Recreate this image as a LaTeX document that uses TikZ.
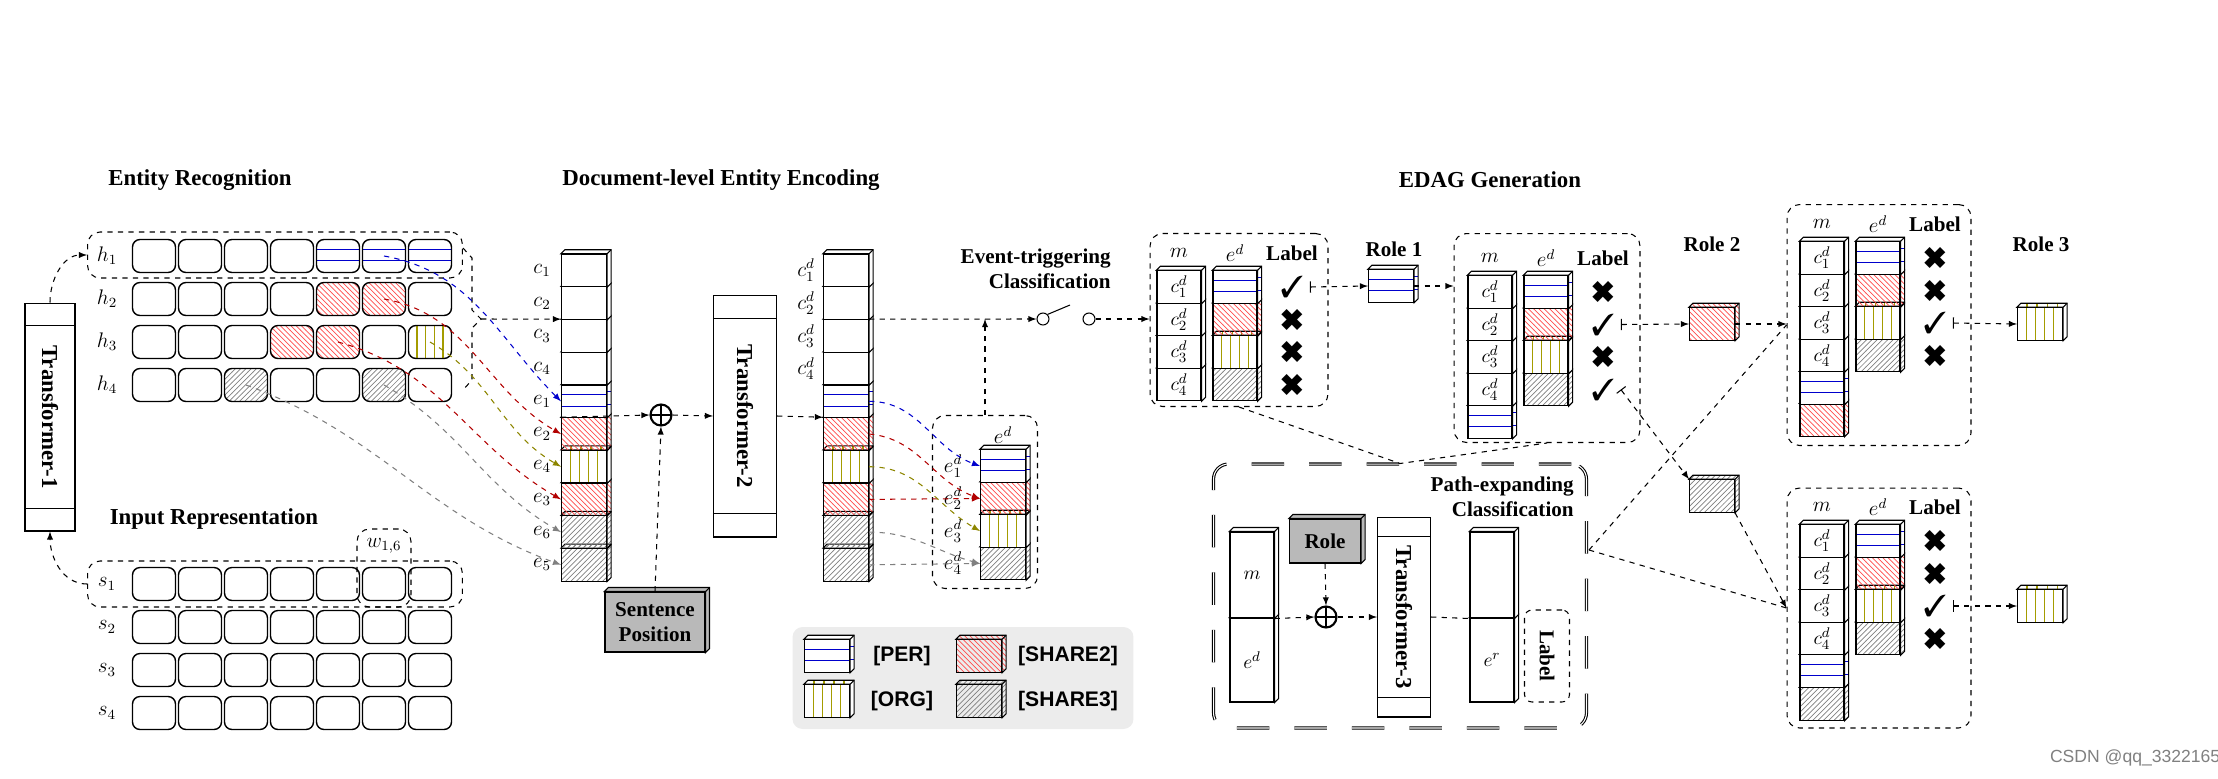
\documentclass[tikz,border=0pt]{standalone}
\usepackage{fontspec}
\setmainfont{Liberation Serif}
\newfontfamily\legfont{Liberation Sans}
\usepackage{amsmath}
\usepackage{pifont}
\usepackage{tikz}
\usetikzlibrary{positioning}
\usetikzlibrary{calc}
\usetikzlibrary{patterns}
\usetikzlibrary{arrows}

\tikzset{
  cube/.style={draw,fill=white,inner sep=0,minimum width=0.9cm,minimum height=0.65cm,font=\fontsize{11}{12}\selectfont},
  tok/.style={draw,thick,rounded corners=0.15cm,inner sep=0,minimum width=0.86cm,minimum height=0.66cm},
  per/.style={path picture={\foreach \f in {0.3,0.65}{\draw[blue!80!black,semithick] ($(path picture bounding box.north west)!\f!(path picture bounding box.south west)$) -- ($(path picture bounding box.north east)!\f!(path picture bounding box.south east)$);}}},
  org/.style={path picture={\foreach \f in {0.2,0.4,0.6,0.8}{\draw[olive!80!yellow] ($(path picture bounding box.north west)!\f!(path picture bounding box.north east)$) -- ($(path picture bounding box.south west)!\f!(path picture bounding box.south east)$);}}},
  shtwo/.style={pattern=north west lines,pattern color=red!70},
  shthree/.style={pattern=north east lines,pattern color=gray},
  hp 1-5/.style={per}, hp 1-6/.style={per}, hp 1-7/.style={per},
  hp 2-5/.style={shtwo}, hp 2-6/.style={shtwo},
  hp 3-4/.style={shtwo}, hp 3-5/.style={shtwo}, hp 3-7/.style={org},
  hp 4-3/.style={shthree}, hp 4-6/.style={shthree},
  ttl/.style={font=\fontsize{13}{15}\selectfont\bfseries},
  lab/.style={font=\fontsize{12}{14}\selectfont},
  head/.style={font=\fontsize{12}{14}\selectfont\bfseries},
  tick/.style={font=\LARGE},
  grp/.style={draw,dashed,rounded corners=0.25cm,inner sep=0},
  conn/.style={dashed,-latex},
  bconn/.style={dashed,|-latex},
  oplus/.style={circle,draw,very thick,minimum size=0.42cm,inner sep=0,path picture={\draw[very thick] (path picture bounding box.north) -- (path picture bounding box.south) (path picture bounding box.west) -- (path picture bounding box.east);}}
}

\newcommand\cubenode[4]{%
  \node[cube,#4] (#1) at (#2) {#3};
  \draw[fill=white,#4] (#1.north west) -- ++(0.08cm,0.08cm) -- ([shift={(0.08cm,0.08cm)}]#1.north east) -- ([shift={(0.08cm,0.08cm)}]#1.south east) -- (#1.south east) -- (#1.north east) -- cycle;
  \draw (#1.north east) -- ++(0.08cm,0.08cm);}

% candidate table: prefix, x of m column, y of first row
\newcommand\cand[3]{%
  \foreach \k/\st in {4/shthree,3/org,2/shtwo,1/per}{
    \pgfmathsetmacro\yy{#3+32.5*(\k-1)}
    \cubenode{#1m\k}{#2,\yy}{$c^d_{\k}$}{minimum width=0.88cm}
    \cubenode{#1e\k}{#2+56,\yy}{}{\st,minimum width=0.88cm}}
  \node[lab] (#1hm) at (#2,#3-34) {$m$};
  \node[lab] (#1he) at (#2+56,#3-34) {$e^d$};
  \node[head] (#1hl) at (#2+113,#3-34) {Label};}

\begin{document}
\begin{tikzpicture}[x=0.02cm,y=-0.02cm,semithick]
\useasboundingbox (0,0) rectangle (2218,778);

% titles
\node[ttl] (t1) at (200,180) {Entity Recognition};
\node[ttl] (t2) at (721,180) {Document-level Entity Encoding};
\node[ttl] (t3) at (1490,180) {EDAG Generation};
\node[ttl] (t4) at (214,519) {Input Representation};

% transformer-1
\node[draw,minimum width=1cm,minimum height=4.56cm] (T1) at (50,417) {\rotatebox{-90}{\fontsize{13}{15}\selectfont\bfseries Transformer-1}};
\draw ([yshift=-0.46cm]T1.north west) -- ([yshift=-0.46cm]T1.north east)
      ([yshift=0.46cm]T1.south west) -- ([yshift=0.46cm]T1.south east);

% token rows
\node[grp,minimum width=7.5cm,minimum height=0.92cm] (hbox) at (275,255) {};
\node[grp,minimum width=7.5cm,minimum height=0.92cm] (sbox) at (275,584) {};
\node[grp,minimum width=1.08cm,minimum height=1.56cm] (wbox) at (384,568) {};
\node[lab,fill=white,inner sep=1pt] (wlab) at (384,546) {$w_{1,6}$};
\foreach \r in {1,...,4}{
  \node[lab] (hl\r) at (107,{256+43*(\r-1)}) {$h_{\r}$};
  \node[lab] (sl\r) at (107,{584+43*(\r-1)}) {$s_{\r}$};
  \foreach \c in {1,...,7}{
    \node[tok,hp \r-\c/.try] (h-\r-\c) at ({154+46*(\c-1)},{256+43*(\r-1)}) {};
    \node[tok] (s-\r-\c) at ({154+46*(\c-1)},{584+43*(\r-1)}) {};
  }
}
\draw[conn] (T1.north) to[out=90,in=180] (hbox.west);
\draw[conn] (sbox.west) to[out=180,in=-90] (T1.south);
\draw[dashed] (463,248) -- (472,258) -- (472,310) -- (481,319) -- (472,328) -- (472,380) -- (463,390);
\coordinate (brk) at (481,319);

% entity column
\foreach \k/\st/\lb in {10/shthree/e_5,9/shthree/e_6,8/shtwo/e_3,7/org/e_4,6/shtwo/e_2,5/per/e_1,4/{}/c_4,3/{}/c_3,2/{}/c_2,1/{}/c_1}{
  \pgfmathsetmacro\yy{270.5+32.7*(\k-1)}
  \cubenode{a\k}{584,\yy}{}{\st}
  \node[lab] (la\k) at (542,\yy) {$\lb$};
}
\draw[conn] (brk) -- (a3.north west);
\draw[conn,blue!80!black] (h-1-6.center) to[out=-10,in=135] (a5.west);
\draw[conn,red!70!black] (h-2-6.center) to[out=-10,in=150] (a6.west);
\draw[conn,olive] (h-3-7.center) to[out=-30,in=150] (a7.west);
\draw[conn,red!70!black] (h-3-5.center) to[out=-15,in=150] (a8.west);
\draw[conn,gray] (h-4-6.center) to[out=-30,in=150] (a9.west);
\draw[conn,gray] (h-4-3.center) to[out=-20,in=160] (a10.west);

\node[oplus] (op1) at (661,415) {};
\cubenode{sp}{655,622}{Sentence\\Position}{fill=gray!55,minimum width=2cm,minimum height=1.2cm,align=center,font=\fontsize{12}{14}\selectfont\bfseries}
\draw[conn] (a6.north west) -- (op1.west);
\draw[conn] (sp.north) -- (op1.south);

% transformer-2
\node[draw,minimum width=1.26cm,minimum height=4.84cm] (T2) at (745,416) {\rotatebox{-90}{\fontsize{13}{15}\selectfont\bfseries Transformer-2}};
\draw ([yshift=-0.48cm]T2.north west) -- ([yshift=-0.48cm]T2.north east)
      ([yshift=0.48cm]T2.south west) -- ([yshift=0.48cm]T2.south east);
\draw[conn] (op1.east) -- (T2.west);

\foreach \k/\st in {10/shthree,9/shthree,8/shtwo,7/org,6/shtwo,5/per,4/{},3/{},2/{},1/{}}{
  \pgfmathsetmacro\yy{270.5+32.7*(\k-1)}
  \cubenode{b\k}{846,\yy}{}{\st}
}
\foreach \k in {1,...,4}
  \node[lab] (lb\k) at (806,{270.5+32.7*(\k-1)}) {$c^d_{\k}$};
\draw[conn] (T2.east) -- (b6.north west);

% e^d group
\node[grp,minimum width=2.1cm,minimum height=3.46cm] (edbox) at (985,502) {};
\node[lab] (edlab) at (1003,435) {$e^d$};
\foreach \k/\st in {4/shthree,3/org,2/shtwo,1/per}{
  \pgfmathsetmacro\yy{466+32.5*(\k-1)}
  \cubenode{d\k}{1003,\yy}{}{\st}
  \node[lab] (ld\k) at (953,\yy) {$e^d_{\k}$};
}
\draw[conn,blue!80!black] (b5.east) to[out=0,in=160] (d1.west);
\draw[conn,red!70!black] (b6.east) to[out=-5,in=160] (d2.west);
\draw[conn,red!70!black] (b8.east) -- (d2.west);
\draw[conn,olive] (b7.east) to[out=0,in=150] (d3.west);
\draw[conn,gray] (b9.east) to[out=0,in=165] (d4.west);
\draw[conn,gray] (b10.east) -- (d4.west);

% event-triggering switch
\node[font=\fontsize{12}{14}\selectfont\bfseries,align=right,anchor=east] (evt) at (1117,269) {Event-triggering\\Classification};
\node[circle,draw,inner sep=0,minimum size=0.24cm] (sw1) at (1043,319) {};
\node[circle,draw,inner sep=0,minimum size=0.24cm] (sw2) at (1089,319) {};
\coordinate (swe) at (1070,305);
\draw (sw1.north east) -- (swe);
\draw[conn] (b3.north east) -- (sw1.west);
\draw[conn] (edbox.north) -- (edbox.north |- sw1.west);

% legend
\node[fill=gray!15,rounded corners=0.2cm,minimum width=6.82cm,minimum height=2.04cm] (leg) at (963,678) {};
\cubenode{lg1}{827,656}{}{per}
\cubenode{lg2}{979,656}{}{shtwo}
\cubenode{lg3}{827,701}{}{org}
\cubenode{lg4}{979,701}{}{shthree}
\node[font=\legfont\fontsize{12}{14}\selectfont\bfseries] (lt1) at (902,656) {[PER]};
\node[font=\legfont\fontsize{12}{14}\selectfont\bfseries] (lt2) at (1068,656) {[SHARE2]};
\node[font=\legfont\fontsize{12}{14}\selectfont\bfseries] (lt3) at (902,701) {[ORG]};
\node[font=\legfont\fontsize{12}{14}\selectfont\bfseries] (lt4) at (1068,701) {[SHARE3]};

% EDAG tables
\node[grp,minimum width=3.56cm,minimum height=3.46cm] (g1) at (1239,320) {};
\node[grp,minimum width=3.72cm,minimum height=4.18cm] (g2) at (1547,338) {};
\node[grp,minimum width=3.68cm,minimum height=4.82cm] (g3) at (1879,325) {};
\node[grp,minimum width=3.68cm,minimum height=4.8cm] (g4) at (1879,608) {};
\draw[conn] (sw2.east) -- (g1.west |- sw2);

\cand{p}{1179}{287}
\cubenode{qm5}{1490,422}{}{per,minimum width=0.88cm}
\cand{q}{1490}{292}
\cubenode{rm6}{1822,420}{}{shtwo,minimum width=0.88cm}
\cubenode{rm5}{1822,388}{}{per,minimum width=0.88cm}
\cand{r}{1822}{258}
\cubenode{um6}{1822,704}{}{shthree,minimum width=0.88cm}
\cubenode{um5}{1822,671}{}{per,minimum width=0.88cm}
\cand{u}{1822}{541}

\foreach \k/\mk in {1/51,2/54,3/54,4/54}
  \node[tick] (pk\k) at (1292,{287+32.5*(\k-1)}) {\ding{\mk}};
\foreach \k/\mk in {1/54,2/51,3/54,4/51}
  \node[tick] (qk\k) at (1603,{292+32.5*(\k-1)}) {\ding{\mk}};
\foreach \k/\mk in {1/54,2/54,3/51,4/54}{
  \node[tick] (rk\k) at (1935,{258+32.5*(\k-1)}) {\ding{\mk}};
  \node[tick] (uk\k) at (1935,{541+32.5*(\k-1)}) {\ding{\mk}};
}

% roles
\node[head] (rl1) at (1394,249) {Role 1};
\node[head] (rl2) at (1712,244) {Role 2};
\node[head] (rl3) at (2041,244) {Role 3};
\cubenode{ro1}{1391,286}{}{per}
\cubenode{ro2}{1712,324}{}{shtwo}
\cubenode{ro3}{1712,496}{}{shthree}
\cubenode{ro4}{2040,324}{}{org}
\cubenode{ro5}{2040,606}{}{org}
\draw[bconn] (pk1.east) -- (ro1.west);
\draw[conn] (ro1.east) -- (g2.west |- ro1);
\draw[bconn] (qk2.east) -- (ro2.west);
\draw[conn] (ro2.east) -- (g3.west |- ro2);
\draw[bconn] (qk4.east) -- (ro3.north west);
\draw[conn] (ro3.south east) -- (g4.west);
\draw[bconn] (rk3.east) -- (ro4.west);
\draw[bconn] (uk3.east) -- (ro5.west);

% path-expanding classification
\node[draw,double,rounded corners=0.3cm,dash pattern=on 0.65cm off 0.5cm,minimum width=7.46cm,minimum height=5.28cm] (pbox) at (1400,596) {};
\node[font=\fontsize{12}{14}\selectfont\bfseries,align=right,anchor=east] (pec) at (1580,497) {Path-expanding\\Classification};
\draw[dashed] (g1.south) -- (pbox.north) -- (g2.south);
\coordinate (pr) at (1589,550);
\draw[dashed] (pr) -- (g3.west);
\draw[dashed] (pr) -- (g4.west);

\cubenode{me}{1252,660}{$e^d$}{minimum width=0.88cm,minimum height=1.68cm}
\cubenode{mm}{1252,575}{$m$}{minimum width=0.88cm,minimum height=1.72cm}
\cubenode{ere}{1492,660}{$e^r$}{minimum width=0.88cm,minimum height=1.68cm}
\cubenode{erm}{1492,575}{}{minimum width=0.88cm,minimum height=1.72cm}
\cubenode{rol}{1325,541}{Role}{fill=gray!55,minimum width=1.42cm,minimum height=0.88cm,font=\fontsize{12}{14}\selectfont\bfseries}
\node[oplus] (op2) at (1326,617) {};
\node[draw,minimum width=1.06cm,minimum height=4cm] (T3) at (1404,617) {\rotatebox{-90}{\fontsize{13}{15}\selectfont\bfseries Transformer-3}};
\draw ([yshift=-0.4cm]T3.north west) -- ([yshift=-0.4cm]T3.north east)
      ([yshift=0.4cm]T3.south west) -- ([yshift=0.4cm]T3.south east);
\node[grp,rounded corners=0.15cm,minimum width=0.9cm,minimum height=1.84cm] (lbl) at (1547,656) {\rotatebox{-90}{\fontsize{12}{14}\selectfont\bfseries Label}};
\draw[conn] (mm.south east) -- (op2.west);
\draw[conn] (rol.south) -- (op2.north);
\draw[conn] (op2.east) -- (T3.west);
\draw[dashed] (T3.east) -- (erm.south west);

\node[font=\legfont\fontsize{10}{12}\selectfont,text=gray] (wm) at (2140,758) {CSDN @qq\_33221657};
\end{tikzpicture}
\end{document}
